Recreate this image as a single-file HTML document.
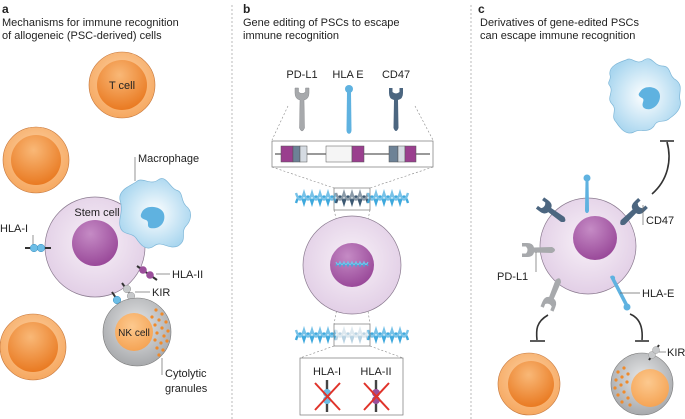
<!DOCTYPE html>
<html><head><meta charset="utf-8"><style>
html,body{margin:0;padding:0;background:#fff;}
svg{display:block;}
text{font-family:"Liberation Sans",sans-serif;fill:#222;}
</style></head><body>
<svg width="685" height="419" viewBox="0 0 685 419" xmlns="http://www.w3.org/2000/svg">
<defs>
<radialGradient id="org" cx="50%" cy="40%" r="60%"><stop offset="0" stop-color="#fcd2a6"/><stop offset="1" stop-color="#f6a860"/></radialGradient>
<radialGradient id="orgIn" cx="45%" cy="30%" r="70%"><stop offset="0" stop-color="#f9b877"/><stop offset="1" stop-color="#e97a22"/></radialGradient>
<radialGradient id="stem" cx="50%" cy="45%" r="55%"><stop offset="0" stop-color="#f8f1f8"/><stop offset="1" stop-color="#e2cfe6"/></radialGradient>
<radialGradient id="nuc" cx="40%" cy="30%" r="70%"><stop offset="0" stop-color="#c58bc5"/><stop offset="1" stop-color="#9a4a9a"/></radialGradient>
<radialGradient id="mac" cx="50%" cy="50%" r="55%"><stop offset="0" stop-color="#ffffff"/><stop offset="1" stop-color="#a9d6ef"/></radialGradient>
<radialGradient id="nk" cx="50%" cy="40%" r="60%"><stop offset="0" stop-color="#e6e7e8"/><stop offset="1" stop-color="#a7a9ac"/></radialGradient>
<radialGradient id="nkIn" cx="45%" cy="35%" r="65%"><stop offset="0" stop-color="#fcc98f"/><stop offset="1" stop-color="#f5a455"/></radialGradient>
</defs>

<line x1="232" y1="5" x2="232" y2="419" stroke="#aaa" stroke-width="0.8" stroke-dasharray="2,2"/>
<line x1="471" y1="5" x2="471" y2="419" stroke="#aaa" stroke-width="0.8" stroke-dasharray="2,2"/>

<!-- ========== Panel a ========== -->
<text x="2" y="13" font-size="12" font-weight="bold">a</text>
<text x="2" y="26" font-size="11">Mechanisms for immune recognition</text>
<text x="2" y="39" font-size="11">of allogeneic (PSC-derived) cells</text>

<g stroke="#c4753a" stroke-width="0.6">
<circle cx="122" cy="85" r="33" fill="url(#org)"/>
<circle cx="122" cy="85" r="25" fill="url(#orgIn)" stroke="none"/>
<circle cx="36" cy="160" r="33" fill="url(#org)"/>
<circle cx="36" cy="160" r="25" fill="url(#orgIn)" stroke="none"/>
<circle cx="33" cy="347" r="33" fill="url(#org)"/>
<circle cx="33" cy="347" r="25" fill="url(#orgIn)" stroke="none"/>
</g>
<text x="122" y="89" font-size="11" text-anchor="middle">T cell</text>

<circle cx="95" cy="247" r="50" fill="url(#stem)" stroke="#8a7a8f" stroke-width="0.7"/>
<circle cx="95" cy="243" r="23" fill="url(#nuc)"/>
<text x="97" y="216" font-size="11" text-anchor="middle">Stem cell</text>

<path d="M120,200 C118,190 130,186 136,182 C142,176 150,186 158,180 C166,174 170,188 176,190 C184,192 180,200 186,206 C194,212 190,222 186,226 C180,232 188,240 178,246 C168,250 162,240 154,246 C146,252 140,244 136,238 C132,232 122,236 120,226 C118,218 124,212 120,200 Z" fill="url(#mac)" stroke="#7fb7d8" stroke-width="0.7"/>
<path d="M142,212 C146,204 162,206 164,214 C166,222 160,230 150,228 C146,226 150,222 146,220 C140,218 140,216 142,212 Z" fill="#5fb2e0"/>
<line x1="135" y1="157" x2="135" y2="181" stroke="#666" stroke-width="0.7"/>
<text x="138" y="162" font-size="11">Macrophage</text>

<text x="0" y="232" font-size="11">HLA-I</text>
<line x1="33" y1="235" x2="33" y2="245" stroke="#666" stroke-width="0.7"/>
<line x1="25" y1="248" x2="51" y2="248" stroke="#333" stroke-width="2"/>
<circle cx="34" cy="248" r="3.8" fill="#6cbde6" stroke="#3a8fbf" stroke-width="0.5"/>
<circle cx="41" cy="248" r="3.8" fill="#6cbde6" stroke="#3a8fbf" stroke-width="0.5"/>

<line x1="137" y1="266" x2="157" y2="280" stroke="#333" stroke-width="2"/>
<circle cx="143" cy="270" r="3.8" fill="#9b4f9b"/>
<circle cx="150" cy="275" r="3.8" fill="#9b4f9b"/>
<line x1="156" y1="274" x2="170" y2="274" stroke="#666" stroke-width="0.7"/>
<text x="172" y="278" font-size="11">HLA-II</text>

<line x1="122" y1="283" x2="140" y2="308" stroke="#333" stroke-width="2"/>
<circle cx="127" cy="289" r="3.8" fill="#c7c9cb" stroke="#999" stroke-width="0.5"/>
<circle cx="131" cy="296" r="3.8" fill="#c7c9cb" stroke="#999" stroke-width="0.5"/>
<line x1="135" y1="292" x2="150" y2="292" stroke="#666" stroke-width="0.7"/>
<text x="152" y="296" font-size="11">KIR</text>
<line x1="112" y1="292" x2="126" y2="313" stroke="#333" stroke-width="2"/>
<circle cx="117" cy="300" r="3.8" fill="#6cbde6" stroke="#3a8fbf" stroke-width="0.5"/>
<circle cx="121" cy="306" r="3.8" fill="#6cbde6" stroke="#3a8fbf" stroke-width="0.5"/>

<circle cx="137" cy="332" r="34" fill="url(#nk)" stroke="#777" stroke-width="0.6"/>
<circle cx="134" cy="332" r="19" fill="url(#nkIn)"/>
<text x="134" y="336" font-size="10" text-anchor="middle">NK cell</text>
<g fill="#ef8a2b">
<circle cx="156" cy="310" r="1.6"/><circle cx="162" cy="314" r="1.6"/><circle cx="152" cy="317" r="1.6"/><circle cx="159" cy="320" r="1.6"/><circle cx="166" cy="322" r="1.6"/><circle cx="155" cy="325" r="1.6"/><circle cx="162" cy="328" r="1.6"/><circle cx="168" cy="331" r="1.6"/><circle cx="157" cy="333" r="1.6"/><circle cx="164" cy="336" r="1.6"/><circle cx="155" cy="340" r="1.6"/><circle cx="161" cy="343" r="1.6"/><circle cx="167" cy="341" r="1.6"/><circle cx="157" cy="348" r="1.6"/><circle cx="163" cy="350" r="1.6"/><circle cx="159" cy="355" r="1.6"/>
</g>
<line x1="162" y1="358" x2="162" y2="375" stroke="#666" stroke-width="0.7"/>
<text x="165" y="377" font-size="11">Cytolytic</text>
<text x="165" y="392" font-size="11">granules</text>

<!-- ========== Panel b ========== -->
<text x="243" y="13" font-size="12" font-weight="bold">b</text>
<text x="243" y="26" font-size="11">Gene editing of PSCs to escape</text>
<text x="243" y="39" font-size="11">immune recognition</text>

<text x="302" y="78" font-size="11" text-anchor="middle">PD-L1</text>
<text x="348" y="78" font-size="11" text-anchor="middle">HLA E</text>
<text x="396" y="78" font-size="11" text-anchor="middle">CD47</text>

<g transform="translate(302,88)">
<path d="M-7,0 L-7,5 Q-7,11 -2,12 L-2.5,40 Q0,46 2.5,40 L2,12 Q7,11 7,5 L7,0 L3.5,0 L3.5,4 Q0,7 -3.5,4 L-3.5,0 Z" fill="#a7a9ac" stroke="#8a8c8f" stroke-width="0.5"/>
</g>
<circle cx="349" cy="89" r="4" fill="#5fb2e0"/>
<path d="M347,92 L351,92 L351.5,130 C351.5,135 346.5,135 346.5,130 Z" fill="#5fb2e0"/>
<g transform="translate(396,88)">
<path d="M-7,0 L-7,5 Q-7,11 -2,12 L-2.5,40 Q0,46 2.5,40 L2,12 Q7,11 7,5 L7,0 L3.5,0 L3.5,4 Q0,7 -3.5,4 L-3.5,0 Z" fill="#4c6680"/>
</g>

<g stroke="#888" stroke-width="0.6" stroke-dasharray="2,2" fill="none">
<line x1="288" y1="106" x2="272" y2="140"/>
<line x1="415" y1="106" x2="433" y2="140"/>
<line x1="272" y1="167" x2="334" y2="188"/>
<line x1="433" y1="167" x2="370" y2="188"/>
<line x1="334" y1="210" x2="346" y2="258"/>
<line x1="370" y1="210" x2="360" y2="258"/>
<line x1="344" y1="272" x2="334" y2="324"/>
<line x1="362" y1="272" x2="370" y2="324"/>
<line x1="334" y1="346" x2="300" y2="358"/>
<line x1="370" y1="346" x2="403" y2="358"/>
</g>

<rect x="272" y="141" width="161" height="26" fill="#fff" stroke="#777" stroke-width="0.7"/>
<line x1="275" y1="154" x2="430" y2="154" stroke="#333" stroke-width="1"/>
<g stroke="#555" stroke-width="0.5">
<rect x="281" y="146" width="12" height="16" fill="#9a3f8e"/>
<rect x="293" y="146" width="7" height="16" fill="#6d8296"/>
<rect x="300" y="146" width="7" height="16" fill="#d5dbe2"/>
<rect x="326" y="146" width="26" height="16" fill="#f5f5f5"/>
<rect x="352" y="146" width="12" height="16" fill="#9a3f8e"/>
<rect x="389" y="146" width="9" height="16" fill="#6d8296"/>
<rect x="398" y="146" width="7" height="16" fill="#d5dbe2"/>
<rect x="405" y="146" width="11" height="16" fill="#9a3f8e"/>
</g>

<g fill="none" stroke-width="2.4">
<path d="M296,203 Q300,190 304,203 Q308,190 312,203 Q316,190 320,203 Q324,190 328,203 Q332,190 336,203" stroke="#3fa9dd"/>
<path d="M296,193 Q300,206 304,193 Q308,206 312,193 Q316,206 320,193 Q324,206 328,193 Q332,206 336,193" stroke="#77c2e8"/>
<path d="M336,203 Q340,190 344,203 Q348,190 352,203 Q356,190 360,203 Q364,190 368,203" stroke="#3d5a74"/>
<path d="M336,193 Q340,206 344,193 Q348,206 352,193 Q356,206 360,193 Q364,206 368,193" stroke="#8a9aa8"/>
<path d="M368,203 Q372,190 376,203 Q380,190 384,203 Q388,190 392,203 Q396,190 400,203 Q404,190 408,203" stroke="#3fa9dd"/>
<path d="M368,193 Q372,206 376,193 Q380,206 384,193 Q388,206 392,193 Q396,206 400,193 Q404,206 408,193" stroke="#77c2e8"/>
</g>
<rect x="334" y="188" width="36" height="22" fill="none" stroke="#777" stroke-width="0.7"/>

<circle cx="352" cy="265" r="49" fill="url(#stem)" stroke="#8a7a8f" stroke-width="0.7"/>
<circle cx="352" cy="265" r="22" fill="url(#nuc)"/>
<g fill="none" stroke-width="1.2">
<path d="M336,266 Q338,261 340,266 Q342,261 344,266 Q346,261 348,266 Q350,261 352,266 Q354,261 356,266 Q358,261 360,266 Q362,261 364,266 Q366,261 368,266" stroke="#3fa9dd"/>
<path d="M336,262 Q338,267 340,262 Q342,267 344,262 Q346,267 348,262 Q350,267 352,262 Q354,267 356,262 Q358,267 360,262 Q362,267 364,262 Q366,267 368,262" stroke="#77c2e8"/>
</g>

<g fill="none" stroke-width="2.4">
<path d="M296,340 Q300,327 304,340 Q308,327 312,340 Q316,327 320,340 Q324,327 328,340 Q332,327 336,340" stroke="#3fa9dd"/>
<path d="M296,330 Q300,343 304,330 Q308,343 312,330 Q316,343 320,330 Q324,343 328,330 Q332,343 336,330" stroke="#77c2e8"/>
<path d="M336,340 Q340,327 344,340 Q348,327 352,340 Q356,327 360,340 Q364,327 368,340" stroke="#b8d2e2"/>
<path d="M336,330 Q340,343 344,330 Q348,343 352,330 Q356,343 360,330 Q364,343 368,330" stroke="#dde8ef"/>
<path d="M368,340 Q372,327 376,340 Q380,327 384,340 Q388,327 392,340 Q396,327 400,340 Q404,327 408,340" stroke="#3fa9dd"/>
<path d="M368,330 Q372,343 376,330 Q380,343 384,330 Q388,343 392,330 Q396,343 400,330 Q404,343 408,330" stroke="#77c2e8"/>
</g>
<rect x="334" y="324" width="36" height="22" fill="none" stroke="#777" stroke-width="0.7"/>

<rect x="300" y="358" width="103" height="57" fill="#fff" stroke="#777" stroke-width="0.7"/>
<text x="327" y="375" font-size="11" text-anchor="middle">HLA-I</text>
<text x="376" y="375" font-size="11" text-anchor="middle">HLA-II</text>
<line x1="327" y1="380" x2="327" y2="412" stroke="#444" stroke-width="2.4"/>
<circle cx="327" cy="393" r="4" fill="#6cbde6"/><circle cx="327" cy="400" r="4" fill="#6cbde6"/>
<line x1="376" y1="380" x2="376" y2="412" stroke="#444" stroke-width="2.4"/>
<circle cx="376" cy="393" r="4" fill="#9b4f9b"/><circle cx="376" cy="400" r="4" fill="#9b4f9b"/>
<g stroke="#e0332a" stroke-width="2">
<line x1="315" y1="383" x2="340" y2="410"/><line x1="340" y1="383" x2="315" y2="410"/>
<line x1="364" y1="383" x2="389" y2="410"/><line x1="389" y1="383" x2="364" y2="410"/>
</g>

<!-- ========== Panel c ========== -->
<text x="478" y="13" font-size="12" font-weight="bold">c</text>
<text x="480" y="26" font-size="11">Derivatives of gene-edited PSCs</text>
<text x="480" y="39" font-size="11">can escape immune recognition</text>

<path d="M610,75 C608,66 620,62 626,60 C632,56 636,66 644,60 C652,55 654,66 662,66 C672,66 668,76 676,80 C684,86 678,94 680,100 C682,108 676,114 670,118 C664,124 658,118 654,126 C648,134 640,128 634,132 C626,136 620,128 616,122 C610,116 618,110 612,104 C606,98 614,92 610,86 C606,82 612,80 610,75 Z" fill="url(#mac)" stroke="#7fb7d8" stroke-width="0.7"/>
<path d="M640,92 C644,84 660,86 660,96 C660,106 650,112 644,108 C640,104 646,100 642,98 C638,96 638,94 640,92 Z" fill="#5fb2e0"/>

<g fill="none" stroke="#333" stroke-width="1.6">
<path d="M652,194 C668,180 672,160 667,142"/>
<line x1="660" y1="141" x2="674" y2="141"/>
<path d="M548,315 C536,322 536,330 537,340"/>
<line x1="530" y1="341" x2="545" y2="341"/>
<path d="M630,314 C640,318 643,328 642,340"/>
<line x1="635" y1="341" x2="649" y2="341"/>
</g>

<circle cx="588" cy="246" r="48" fill="url(#stem)" stroke="#8a7a8f" stroke-width="0.7"/>
<circle cx="595" cy="238" r="22" fill="url(#nuc)"/>

<circle cx="587" cy="178" r="3.5" fill="#5fb2e0"/>
<path d="M585.5,180 L588.5,180 L589,210 C589,214 585,214 585,210 Z" fill="#5fb2e0"/>

<!-- wrenches c -->
<g transform="translate(540,203) rotate(-54)">
<path d="M-7,0 L-7,5 Q-7,11 -2.5,12 L-3,28 Q0,34 3,28 L2.5,12 Q7,11 7,5 L7,0 L3.5,0 L3.5,4 Q0,7 -3.5,4 L-3.5,0 Z" fill="#4c6680"/>
</g>
<g transform="translate(643,203) rotate(46)">
<path d="M-7,0 L-7,5 Q-7,11 -2.5,12 L-3,28 Q0,34 3,28 L2.5,12 Q7,11 7,5 L7,0 L3.5,0 L3.5,4 Q0,7 -3.5,4 L-3.5,0 Z" fill="#4c6680"/>
</g>
<g transform="translate(522,250) rotate(-90)">
<path d="M-7,0 L-7,5 Q-7,11 -2.5,12 L-3,30 Q0,36 3,30 L2.5,12 Q7,11 7,5 L7,0 L3.5,0 L3.5,4 Q0,7 -3.5,4 L-3.5,0 Z" fill="#a7a9ac"/>
</g>
<g transform="translate(547,309) rotate(-158)">
<path d="M-7,0 L-7,5 Q-7,11 -2.5,12 L-3,30 Q0,36 3,30 L2.5,12 Q7,11 7,5 L7,0 L3.5,0 L3.5,4 Q0,7 -3.5,4 L-3.5,0 Z" fill="#a7a9ac"/>
</g>

<path d="M610,277 C612,274 616,276 615,279 L628,304 L625,306 Z" fill="#5fb2e0"/>
<circle cx="627" cy="307" r="3.5" fill="#5fb2e0"/>

<line x1="643" y1="205" x2="643" y2="225" stroke="#666" stroke-width="0.7"/>
<text x="646" y="224" font-size="11">CD47</text>
<line x1="536" y1="252" x2="536" y2="272" stroke="#666" stroke-width="0.7"/>
<text x="497" y="280" font-size="11">PD-L1</text>
<line x1="620" y1="293" x2="640" y2="293" stroke="#666" stroke-width="0.7"/>
<text x="642" y="297" font-size="11">HLA-E</text>

<circle cx="529" cy="384" r="31" fill="url(#org)" stroke="#c4753a" stroke-width="0.6"/>
<circle cx="531" cy="384" r="23" fill="url(#orgIn)"/>
<circle cx="642" cy="384" r="31" fill="url(#nk)" stroke="#777" stroke-width="0.6"/>
<circle cx="650" cy="388" r="19" fill="url(#nkIn)"/>
<g fill="#ef8a2b">
<circle cx="618" cy="372" r="1.6"/><circle cx="624" cy="368" r="1.6"/><circle cx="616" cy="380" r="1.6"/><circle cx="622" cy="377" r="1.6"/><circle cx="628" cy="374" r="1.6"/><circle cx="615" cy="388" r="1.6"/><circle cx="621" cy="385" r="1.6"/><circle cx="627" cy="382" r="1.6"/><circle cx="618" cy="395" r="1.6"/><circle cx="624" cy="392" r="1.6"/><circle cx="628" cy="398" r="1.6"/><circle cx="622" cy="402" r="1.6"/><circle cx="630" cy="405" r="1.6"/>
</g>
<line x1="649" y1="360" x2="659" y2="345" stroke="#333" stroke-width="2"/>
<circle cx="652" cy="355" r="3.5" fill="#c7c9cb" stroke="#999" stroke-width="0.5"/>
<circle cx="656" cy="350" r="3.5" fill="#c7c9cb" stroke="#999" stroke-width="0.5"/>
<line x1="659" y1="352" x2="666" y2="352" stroke="#666" stroke-width="0.7"/>
<text x="667" y="356" font-size="11">KIR</text>
</svg>
</body></html>
